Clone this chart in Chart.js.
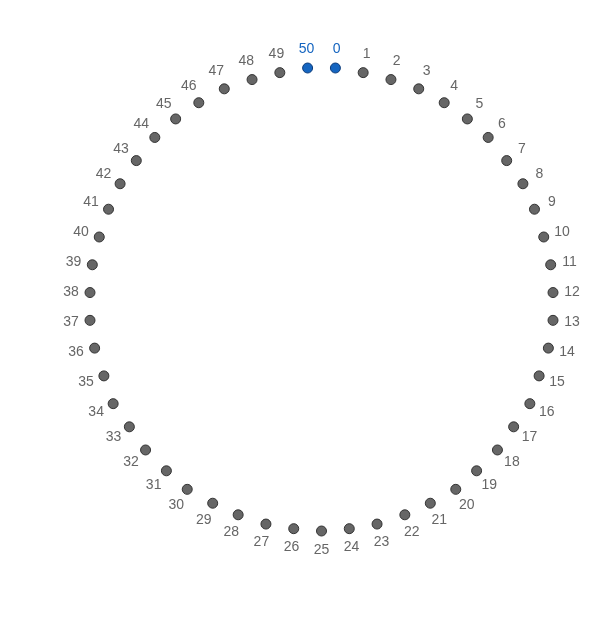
<!DOCTYPE html>
<html><head><meta charset="utf-8">
<script src="https://cdn.jsdelivr.net/npm/chart.js@4"></script>
<style>html,body{margin:0;padding:0;background:#fff}</style>
</head><body>
<canvas id="c" width="597" height="632" style="width:597px;height:632px"></canvas>
<script>
const labels = Array.from({length:51},(_, i)=>String(i));
const xs = [0.06,0.18,0.30,0.42,0.53,0.63,0.72,0.80,0.87,0.92,0.96,0.99,1.00,1.00,0.98,0.94,0.90,0.83,0.76,0.67,0.58,0.47,0.36,0.24,0.12,0.00,
 -0.12,-0.24,-0.36,-0.47,-0.58,-0.67,-0.76,-0.83,-0.90,-0.94,-0.98,-1.00,-1.00,-0.99,-0.96,-0.92,-0.87,-0.80,-0.72,-0.63,-0.53,-0.42,-0.30,-0.18,-0.06];
const ys = [1.00,0.98,0.95,0.91,0.85,0.78,0.70,0.60,0.50,0.39,0.27,0.15,0.03,-0.09,-0.21,-0.33,-0.45,-0.55,-0.65,-0.74,-0.82,-0.88,-0.93,-0.97,-0.99,-1.00,
 -0.99,-0.97,-0.93,-0.88,-0.82,-0.74,-0.65,-0.55,-0.45,-0.33,-0.21,-0.09,0.03,0.15,0.27,0.39,0.50,0.60,0.70,0.78,0.85,0.91,0.95,0.98,1.00];
const highlighted = ["0","50"];
const isHi = i => highlighted.includes(labels[i]);
const labelPlugin = {
  id:'lbl',
  afterDatasetsDraw(chart){
    const ctx = chart.ctx, meta = chart.getDatasetMeta(0);
    const xs0 = chart.scales.x, ys0 = chart.scales.y;
    const cx = xs0.getPixelForValue(0), cy = ys0.getPixelForValue(0);
    ctx.save();
    ctx.font = '14px "Liberation Sans", Arial, sans-serif';
    ctx.textAlign='center'; ctx.textBaseline='middle';
    meta.data.forEach((p,i)=>{
      const dx = p.x-cx, dy = p.y-cy, d = Math.hypot(dx,dy);
      ctx.fillStyle = isHi(i) ? '#1565c0' : '#666';
      ctx.fillText(labels[i], p.x+dx/d*19, p.y+dy/d*19);
    });
    ctx.restore();
  }
};
new Chart(document.getElementById('c'), {
  type:'scatter',
  data:{datasets:[{
    data: xs.map((x,i)=>({x, y: ys[i]})),
    pointRadius:5, pointHoverRadius:5,
    backgroundColor: labels.map((_,i)=>isHi(i)?'#1565c0':'#666'),
    borderColor: labels.map((_,i)=>isHi(i)?'#0d3c7a':'#333'),
    borderWidth:1
  }]},
  options:{
    responsive:false, animation:false, clip:false,
    layout:{padding:{left:90,right:44,top:68,bottom:101}},
    plugins:{legend:{display:false},tooltip:{enabled:false}},
    scales:{
      x:{type:'linear',min:-1,max:1,display:false},
      y:{type:'linear',min:-1,max:1,display:false}
    }
  },
  plugins:[labelPlugin]
});
</script>
</body></html>
